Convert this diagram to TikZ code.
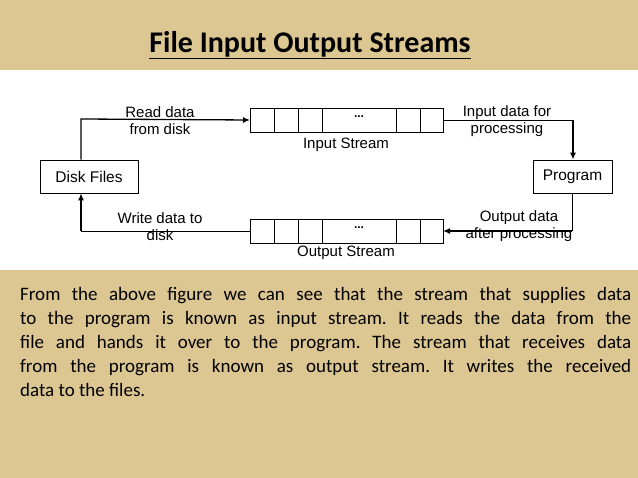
\documentclass[tikz,border=0pt]{standalone}
\usepackage{fontspec}
\setmainfont{Carlito}
\newfontfamily\arl{Liberation Sans}
\definecolor{tan}{RGB}{220,198,146}
\begin{document}
\begin{tikzpicture}[x=1pt,y=-1pt,
  bx/.style={draw,line width=0.8pt,fill=white,minimum height=33pt,font=\arl\fontsize{15.5}{17}\selectfont},
  lab/.style={font=\arl\fontsize{15}{17}\selectfont,align=center,inner sep=0pt},
  ln/.style={line width=0.8pt},
  ar/.style={line width=1.3pt,-{Latex[length=7pt,width=6pt]}}]
\usetikzlibrary{arrows.meta}
\fill[tan] (0,0) rectangle (638,478);
\fill[white] (0,70) rectangle (638,270);
\useasboundingbox (0,0) rectangle (638,478);
\node[font=\bfseries\fontsize{30}{34}\selectfont] (title) at (310,45) {\underline{File Input Output Streams}};
\node[bx,minimum width=98pt] (disk) at (89,176.5) {Disk Files};
\node[bx,minimum width=79pt] (prog) at (572.5,176.5) {Program};
\foreach \y/\n in {120/in,231/out}{
  \draw[ln] (250,\y-12) rectangle (443,\y+12);
  \foreach \x in {274,298,322,396,420} \draw[ln] (\x,\y-12) -- (\x,\y+12);
  \node[font=\arl\bfseries\fontsize{12}{12}\selectfont] at (359,\y-3) {...};
  \coordinate (\n L) at (250,\y);
  \coordinate (\n R) at (443,\y);
}
\coordinate (c1) at (81,119);
\coordinate (c2) at (573,120);
\coordinate (c3) at (572,231);
\coordinate (c4) at (81,231);
\draw[ar] (disk.north -| c1) -- (c1) -- (inL);
\draw[ln] (inR) -- (c2);
\draw[ar] (c2) -- (prog.north -| c2);
\draw[ln] (prog.south -| c3) -- (c3);
\draw[ar] (c3) -- (outR);
\draw[ln] (outL) -- (c4);
\draw[ar] (c4) -- (disk.south -| c4);
\node[lab] (l1) at (160,121) {Read data\\from disk};
\node[lab] (l2) at (346,145) {Input Stream};
\node[lab] (l3) at (507,121) {Input data for\\processing};
\node[lab] (l4) at (160,227) {Write data to\\disk};
\node[lab] (l5) at (519,226) {Output data\\after processing};
\node[lab] (l6) at (346,253) {Output Stream};
\node[anchor=north west,inner sep=0pt,text width=611pt,font=\fontsize{19}{24}\selectfont,align=justify] (para) at (20,287)
{\frenchspacing From the above figure we can see that the stream that supplies data\linebreak to the program is known as input stream. It reads the data from the\linebreak file and hands it over to the program. The stream that receives data\linebreak from the program is known as output stream. It writes the received\linebreak data to the files.};
\end{tikzpicture}
\end{document}
